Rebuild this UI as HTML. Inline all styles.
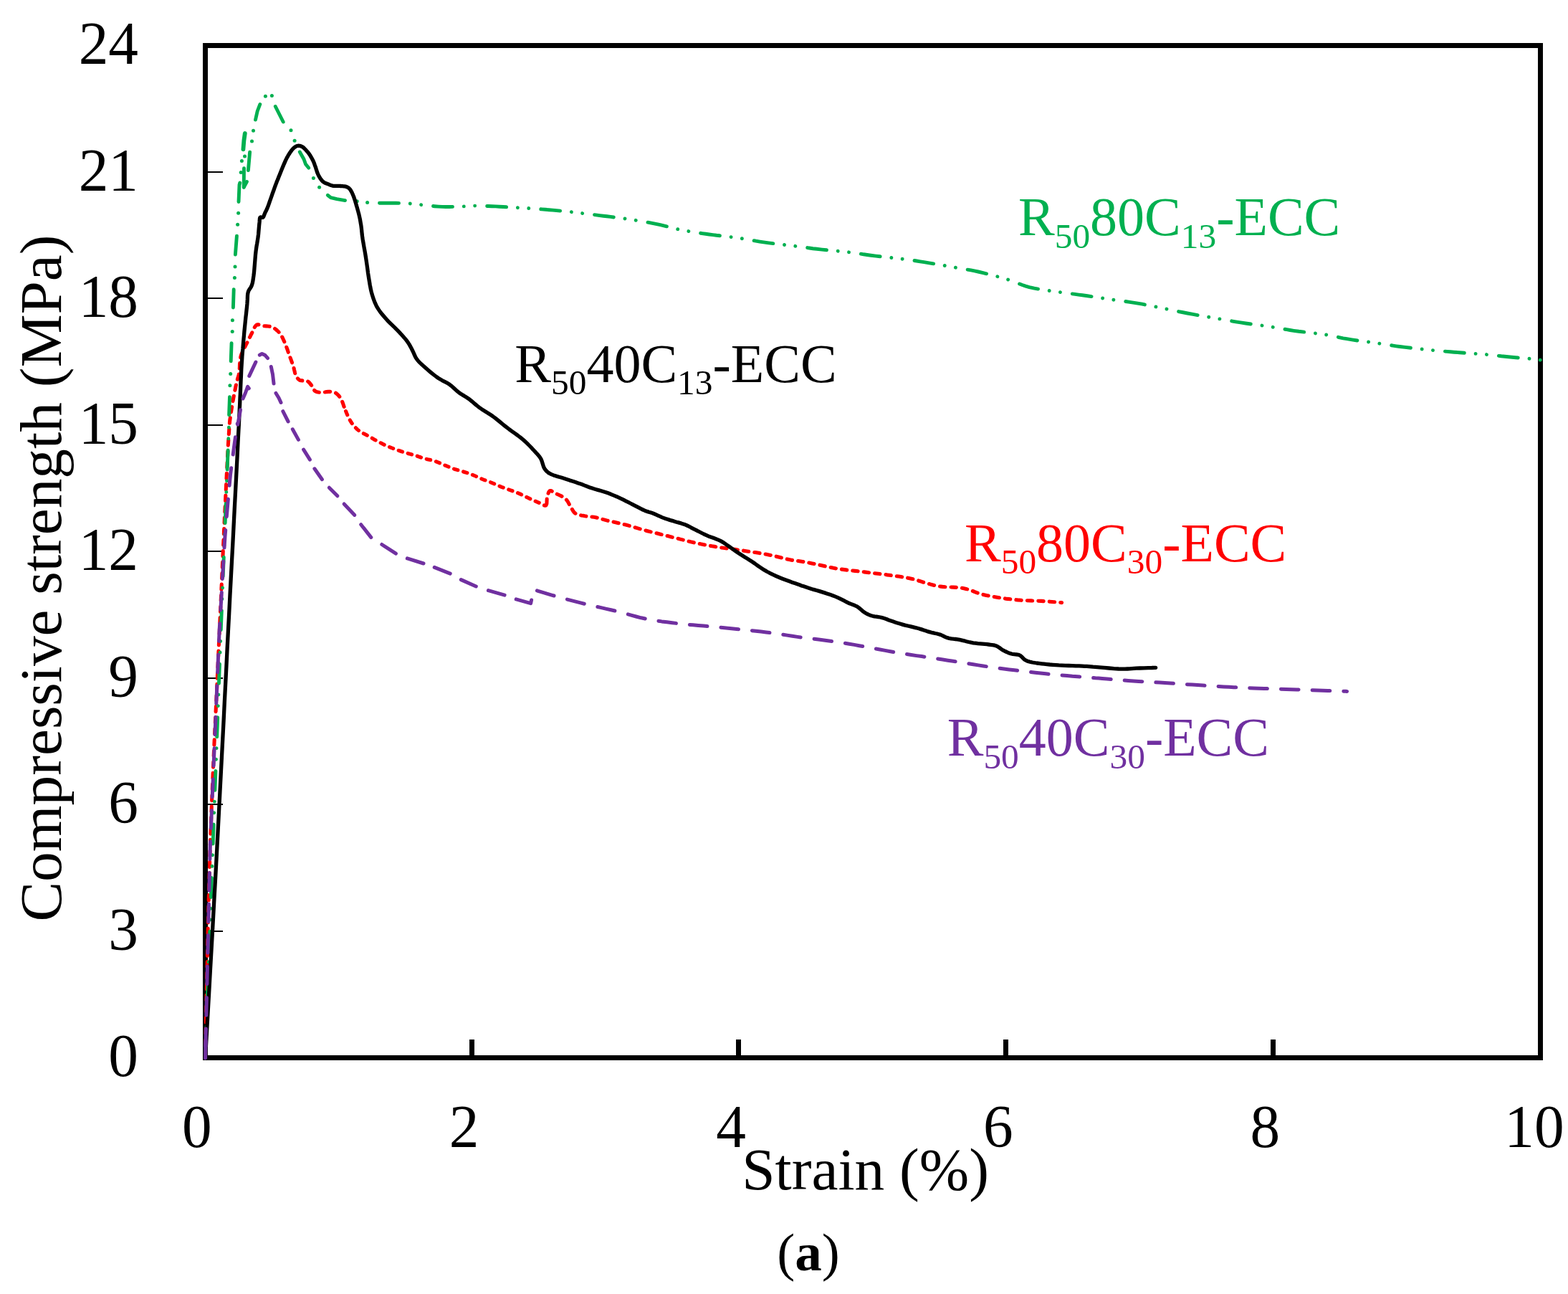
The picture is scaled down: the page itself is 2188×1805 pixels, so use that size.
<!DOCTYPE html>
<html lang="en"><head><meta charset="utf-8"><title>Compressive strength vs strain</title>
<style>html,body{margin:0;padding:0;background:#fff;}svg{display:block;}text{font-family:"Liberation Serif",serif;}.c{fill:none;stroke-linejoin:round;}</style></head><body>
<svg width="2188" height="1805" viewBox="0 0 2188 1805">
<rect x="0" y="0" width="2188" height="1805" fill="#fff"/>
<rect x="286.5" y="63.5" width="1863.0" height="1412.0" fill="none" stroke="#000" stroke-width="7"/>
<line x1="289.5" y1="1299.0" x2="311.0" y2="1299.0" stroke="#000" stroke-width="2"/>
<line x1="289.5" y1="1122.0" x2="311.0" y2="1122.0" stroke="#000" stroke-width="2"/>
<line x1="289.5" y1="946.0" x2="311.0" y2="946.0" stroke="#000" stroke-width="2"/>
<line x1="289.5" y1="769.0" x2="311.0" y2="769.0" stroke="#000" stroke-width="2"/>
<line x1="289.5" y1="593.0" x2="311.0" y2="593.0" stroke="#000" stroke-width="2"/>
<line x1="289.5" y1="416.0" x2="311.0" y2="416.0" stroke="#000" stroke-width="2"/>
<line x1="289.5" y1="240.0" x2="311.0" y2="240.0" stroke="#000" stroke-width="2"/>
<line x1="658.5" y1="1472.5" x2="658.5" y2="1450.0" stroke="#000" stroke-width="7"/>
<line x1="1030.5" y1="1472.5" x2="1030.5" y2="1450.0" stroke="#000" stroke-width="7"/>
<line x1="1403.5" y1="1472.5" x2="1403.5" y2="1450.0" stroke="#000" stroke-width="7"/>
<line x1="1776.5" y1="1472.5" x2="1776.5" y2="1450.0" stroke="#000" stroke-width="7"/>
<text transform="translate(193.0,1501.3) scale(1,1.020)" font-size="83.33" text-anchor="end">0</text>
<text transform="translate(193.0,1324.8) scale(1,1.020)" font-size="83.33" text-anchor="end">3</text>
<text transform="translate(193.0,1148.3) scale(1,1.020)" font-size="83.33" text-anchor="end">6</text>
<text transform="translate(193.0,971.8) scale(1,1.020)" font-size="83.33" text-anchor="end">9</text>
<text transform="translate(193.0,795.3) scale(1,1.020)" font-size="83.33" text-anchor="end">12</text>
<text transform="translate(193.0,618.8) scale(1,1.020)" font-size="83.33" text-anchor="end">15</text>
<text transform="translate(193.0,442.3) scale(1,1.020)" font-size="83.33" text-anchor="end">18</text>
<text transform="translate(193.0,265.8) scale(1,1.020)" font-size="83.33" text-anchor="end">21</text>
<text transform="translate(193.0,89.3) scale(1,1.020)" font-size="83.33" text-anchor="end">24</text>
<text transform="translate(274.9,1599.7) scale(1,1.020)" font-size="83.33" text-anchor="middle">0</text>
<text transform="translate(647.5,1599.7) scale(1,1.020)" font-size="83.33" text-anchor="middle">2</text>
<text transform="translate(1020.1,1599.7) scale(1,1.020)" font-size="83.33" text-anchor="middle">4</text>
<text transform="translate(1392.7,1599.7) scale(1,1.020)" font-size="83.33" text-anchor="middle">6</text>
<text transform="translate(1765.3,1599.7) scale(1,1.020)" font-size="83.33" text-anchor="middle">8</text>
<text transform="translate(2140.9,1599.7) scale(1,1.020)" font-size="83.33" text-anchor="middle">10</text>
<text x="1035.2" y="1659.3" font-size="83.33">Strain (%)</text>
<text transform="translate(85,806.5) rotate(-90)" font-size="83.33" text-anchor="middle">Compressive strength (MPa)</text>
<text x="1127.9" y="1772.3" font-size="75" text-anchor="middle">(<tspan font-weight="bold">a</tspan>)</text>
<path class="c" d="M286.5 1475.5 L286.8 1460.5 L287.5 1420.9 L288.7 1364.8 L290.1 1300.5 L291.7 1236.2 L293.3 1180.0 L295.1 1130.0 L297.1 1079.9 L299.3 1029.7 L301.7 979.6 L304.0 929.6 L306.3 880.0 L308.7 827.6 L311.2 770.4 L313.8 713.4 L316.3 661.6 L318.4 619.9 L320.1 593.5 L320.4 590.2 L320.6 587.7 L320.9 585.7 L321.1 583.9 L321.4 582.0 L321.7 579.7 L322.2 576.3 L322.8 572.6 L323.4 568.8 L324.0 564.9 L324.7 561.0 L325.4 557.2 L326.1 553.4 L326.8 549.6 L327.6 545.7 L328.4 541.9 L329.1 538.3 L329.9 534.8 L330.5 532.2 L331.2 529.7 L331.9 527.3 L332.6 524.9 L333.2 522.5 L333.7 519.8 L334.1 516.3 L334.4 512.6 L334.5 508.7 L334.7 504.8 L335.2 501.0 L335.9 497.3 L337.0 493.9 L338.5 490.4 L340.1 487.1 L341.8 483.9 L343.4 480.7 L344.9 477.8 L345.9 475.6 L346.9 473.6 L347.9 471.6 L348.9 469.7 L349.8 467.8 L350.9 465.8 L352.0 463.5 L353.1 461.0 L354.3 458.4 L355.5 456.1 L356.9 454.3 L358.4 453.1 L359.7 452.8 L361.1 452.9 L362.6 453.2 L364.2 453.7 L365.8 454.2 L367.4 454.6 L369.3 454.8 L371.3 454.9 L373.4 455.0 L375.5 455.2 L377.5 455.5 L379.4 456.1 L381.3 457.0 L383.2 458.2 L385.0 459.5 L386.7 461.0 L388.4 462.6 L389.9 464.3 L391.4 466.2 L392.7 468.4 L394.0 470.6 L395.1 473.0 L396.2 475.4 L397.3 477.8 L398.4 480.4 L399.4 483.1 L400.4 485.9 L401.4 488.7 L402.3 491.5 L403.3 494.3 L404.3 497.1 L405.4 499.9 L406.4 502.6 L407.4 505.4 L408.4 508.1 L409.3 510.8 L410.0 513.2 L410.5 515.6 L411.1 518.0 L411.6 520.3 L412.3 522.4 L413.1 524.3 L413.8 525.6 L414.6 526.7 L415.3 527.8 L416.2 528.8 L417.2 529.6 L418.3 530.3 L419.8 530.8 L421.6 530.9 L423.5 530.9 L425.4 530.9 L427.2 531.0 L428.8 531.5 L430.0 532.3 L431.1 533.2 L432.1 534.3 L433.0 535.4 L433.9 536.6 L434.8 537.8 L435.6 539.0 L436.3 540.4 L436.9 541.7 L437.6 543.1 L438.4 544.2 L439.3 545.2 L440.3 545.9 L441.5 546.4 L442.7 546.8 L444.0 547.1 L445.4 547.3 L446.8 547.5 L448.8 547.5 L451.0 547.3 L453.4 547.0 L455.7 546.6 L458.0 546.4 L460.0 546.3 L461.4 546.4 L462.7 546.4 L464.0 546.6 L465.2 546.8 L466.4 547.2 L467.6 547.7 L469.0 548.5 L470.3 549.6 L471.7 550.9 L472.9 552.2 L474.1 553.7 L475.2 555.3 L476.4 557.4 L477.4 559.7 L478.3 562.2 L479.2 564.7 L480.0 567.2 L480.9 569.5 L481.6 571.3" stroke="#ff0000" stroke-width="5.10" stroke-linecap="round" stroke-dasharray="7.4 8.1" stroke-dashoffset="-2.50"/>
<path class="c" d="M481.6 571.3 L482.3 573.0 L483.0 574.6 L483.6 576.2 L484.3 577.9 L485.1 579.5 L485.9 581.3 L486.8 583.0 L487.7 584.8 L488.6 586.6 L489.7 588.3 L490.8 590.0 L492.1 591.8 L493.6 593.7 L495.1 595.5 L496.8 597.2 L498.5 598.9 L500.3 600.4 L502.3 601.9 L504.5 603.2 L506.7 604.4 L509.0 605.6 L511.3 606.8 L513.6 608.0 L515.8 609.3 L518.1 610.6 L520.3 611.9 L522.5 613.2 L524.7 614.4 L526.9 615.6 L528.8 616.6 L530.7 617.6 L532.6 618.6 L534.4 619.5 L536.3 620.4 L538.3 621.3 L540.4 622.2 L542.6 623.2 L544.9 624.1 L547.1 625.0 L549.4 625.9 L551.6 626.7 L553.8 627.5 L556.0 628.3 L558.2 629.0 L560.4 629.8 L562.6 630.5 L564.9 631.2 L567.4 632.0 L570.0 632.7 L572.6 633.4 L575.2 634.2 L577.7 634.9 L580.1 635.6 L582.1 636.2 L584.0 636.9 L585.8 637.5 L587.6 638.2 L589.5 638.8 L591.5 639.4 L593.9 640.0 L596.5 640.7 L599.1 641.2 L601.7 641.8 L604.3 642.5 L606.7 643.2 L608.7 643.9 L610.6 644.7 L612.4 645.4 L614.2 646.2 L616.1 647.1 L618.1 647.9 L620.5 648.9 L623.0 649.9 L625.6 651.0 L628.2 652.1 L630.8 653.1 L633.3 654.0 L635.6 654.8 L637.8 655.4 L640.0 656.1 L642.3 656.7 L644.5 657.3 L646.7 658.0 L648.9 658.7 L651.2 659.4 L653.4 660.2 L655.6 661.0 L657.8 661.8 L660.0 662.6 L662.2 663.5 L664.4 664.5 L666.7 665.5 L668.9 666.5 L671.1 667.5 L673.3 668.5 L675.5 669.4 L677.7 670.2 L679.9 671.1 L682.2 671.9 L684.4 672.7 L686.6 673.6 L688.8 674.5 L691.0 675.5 L693.2 676.5 L695.5 677.4 L697.7 678.4 L699.9 679.3 L702.1 680.1 L704.3 680.9 L706.5 681.7 L708.8 682.5 L711.0 683.3 L713.2 684.1 L715.4 684.9 L717.6 685.8 L719.9 686.7 L722.1 687.5 L724.3 688.4 L726.5 689.4 L728.7 690.4 L730.9 691.5 L733.2 692.6 L735.4 693.7 L737.6 694.8 L739.8 695.9 L742.0 696.9 L744.3 697.9 L746.6 699.0 L748.9 699.9 L751.0 700.8 L753.1 701.7 L754.7 702.5 L756.3 703.4 L757.9 704.2 L759.4 704.9 L760.7 705.2 L761.7 705.0" stroke="#ff0000" stroke-width="5.10" stroke-linecap="round" stroke-dasharray="5.6 8.0" stroke-dashoffset="-2.50"/>
<path class="c" d="M761.7 705.0 L762.5 704.0 L762.9 702.3 L763.0 700.2 L763.1 697.9 L763.2 695.6 L763.6 693.6 L764.1 691.9 L764.6 690.0 L765.1 688.2 L765.7 686.5 L766.5 685.3 L767.4 684.6 L768.3 684.5 L769.3 684.8 L770.4 685.4 L771.6 686.2 L772.9 687.0 L774.2 687.8 L776.5 688.9 L779.1 690.0 L781.9 691.3 L784.6 692.7 L787.2 694.3 L789.4 696.0 L791.0 697.8 L792.4 699.9 L793.6 702.1 L794.7 704.3 L795.8 706.5 L797.0 708.4 L797.9 709.8 L798.8 711.2 L799.6 712.6 L800.5 713.8 L801.5 715.0 L802.7 716.0 L804.5 717.0 L806.6 717.8 L808.8 718.4 L811.2 718.9 L813.6 719.3 L816.0 719.8 L818.5 720.2 L821.0 720.5 L823.6 720.7 L826.2 721.0 L828.8 721.3 L831.3 721.7 L833.8 722.3 L836.2 722.9 L838.6 723.6 L841.1 724.4 L843.7 725.1 L846.5 725.9 L850.5 726.9 L854.8 727.8 L859.2 728.8 L863.8 729.9 L868.5 731.0 L873.1 732.1 L878.1 733.4 L883.2 734.9 L888.3 736.4 L893.4 737.9 L898.5 739.3 L903.5 740.7 L908.1 741.9 L912.7 743.0 L917.2 744.1 L921.6 745.2 L925.9 746.3 L930.1 747.3 L933.5 748.1 L936.7 749.0 L939.8 749.8 L942.9 750.5 L946.0 751.3 L949.1 752.1 L952.3 752.9 L955.4 753.7 L958.6 754.5 L961.8 755.3 L964.9 756.1 L968.1 756.8 L971.3 757.5 L974.4 758.1 L977.6 758.8 L980.8 759.4 L983.9 760.0 L987.1 760.6 L990.3 761.2 L993.5 761.8 L996.6 762.3 L999.8 762.9 L1003.0 763.4 L1006.2 763.9 L1009.4 764.3 L1012.5 764.7 L1015.7 765.1 L1018.9 765.5 L1022.0 765.9 L1025.2 766.3 L1028.4 766.8 L1031.5 767.2 L1034.7 767.7 L1037.9 768.2 L1041.0 768.7 L1044.2 769.2 L1047.4 769.7 L1050.5 770.1 L1053.7 770.6 L1056.9 771.1 L1060.0 771.6 L1063.2 772.1 L1066.4 772.7 L1069.5 773.3 L1072.7 773.9 L1075.9 774.5 L1079.0 775.2 L1082.2 775.9 L1085.4 776.7 L1088.5 777.5 L1091.7 778.3 L1094.9 779.1 L1098.0 779.9 L1101.2 780.6 L1104.4 781.2 L1107.5 781.7 L1110.7 782.1 L1113.8 782.5 L1117.0 783.0 L1120.2 783.5 L1123.4 784.1 L1126.6 784.7 L1129.9 785.3 L1133.1 785.9 L1136.5 786.6 L1140.0 787.3 L1144.3 788.2 L1148.8 789.2 L1153.4 790.3 L1158.2 791.3 L1163.0 792.3 L1168.0 793.2 L1174.0 794.1 L1180.2 794.9 L1186.6 795.7 L1193.1 796.4 L1199.6 797.1 L1206.0 797.9 L1212.4 798.7 L1218.9 799.5 L1225.4 800.3 L1231.8 801.0 L1238.1 801.9 L1244.1 802.7 L1249.2 803.4 L1254.1 804.1 L1259.0 804.9 L1263.7 805.6 L1268.3 806.5 L1272.6 807.4 L1276.0 808.3 L1279.2 809.2 L1282.4 810.2 L1285.4 811.2 L1288.5 812.2 L1291.6 813.1 L1294.7 814.0 L1297.8 814.9 L1300.8 815.7 L1304.0 816.5 L1307.2 817.3 L1310.6 817.9 L1315.1 818.4 L1320.1 818.8 L1325.2 819.0 L1330.2 819.1 L1334.9 819.4 L1339.1 819.8 L1341.6 820.2 L1343.9 820.6 L1346.0 821.0 L1348.1 821.5 L1350.2 822.0 L1352.4 822.6 L1354.8 823.4 L1357.2 824.3 L1359.6 825.4 L1362.1 826.4 L1364.8 827.4 L1367.6 828.3 L1371.8 829.4 L1376.4 830.5 L1381.3 831.4 L1386.3 832.4 L1391.3 833.2 L1396.2 834.0 L1400.9 834.7 L1405.7 835.4 L1410.4 835.9 L1415.2 836.4 L1419.9 836.9 L1424.7 837.3 L1429.4 837.6 L1434.2 837.8 L1438.9 837.9 L1443.7 838.0 L1448.5 838.2 L1453.2 838.4 L1458.6 838.8 L1464.8 839.2 L1471.0 839.7 L1476.3 840.2 L1480.2 840.5 L1481.6 840.6" stroke="#ff0000" stroke-width="5.10" stroke-linecap="round" stroke-dasharray="7.4 8.1" stroke-dashoffset="13.62"/>
<path class="c" d="M319.4 596.2 L308.2 880.0 L297.0 1180.0 L286.5 1475.5" stroke="#00b050" stroke-width="4.9" stroke-linecap="round" stroke-dasharray="0.01 15.6 0.01 16.2 27 15.8"/>
<path class="c" d="M319.6 578.8 L320.5 553.6" stroke="#00b050" stroke-width="4.9" stroke-linecap="round"/>
<circle cx="320.9" cy="537.8" r="2.50" fill="#00b050"/>
<circle cx="321.7" cy="521.6" r="2.50" fill="#00b050"/>
<path class="c" d="M322.2 503.9 L323.1 478.7" stroke="#00b050" stroke-width="4.9" stroke-linecap="round"/>
<circle cx="324.2" cy="462.5" r="2.50" fill="#00b050"/>
<circle cx="324.4" cy="446.7" r="2.50" fill="#00b050"/>
<path class="c" d="M325.4 429.0 L326.2 403.8" stroke="#00b050" stroke-width="4.9" stroke-linecap="round"/>
<circle cx="327.4" cy="387.6" r="2.50" fill="#00b050"/>
<circle cx="328.0" cy="371.9" r="2.50" fill="#00b050"/>
<path class="c" d="M328.4 355.0 L330.4 329.3" stroke="#00b050" stroke-width="4.9" stroke-linecap="round"/>
<circle cx="331.6" cy="313.2" r="2.50" fill="#00b050"/>
<circle cx="332.6" cy="297.3" r="2.50" fill="#00b050"/>
<path class="c" d="M333.0 281.5 L334.0 258.0 L334.8 255.0" stroke="#00b050" stroke-width="4.9" stroke-linecap="round"/>
<circle cx="336.2" cy="240.6" r="2.50" fill="#00b050"/>
<circle cx="337.4" cy="224.5" r="2.50" fill="#00b050"/>
<circle cx="341.5" cy="218.1" r="2.50" fill="#00b050"/>
<path class="c" d="M339.4 208.3 L340.4 196.0 L341.8 186.0" stroke="#00b050" stroke-width="5.8" stroke-linecap="round"/>
<path class="c" d="M340.5 234.8 L340.2 261.5" stroke="#00b050" stroke-width="4.9" stroke-linecap="round"/>
<path class="c" d="M340.6 260.5 L344.4 253.5" stroke="#00b050" stroke-width="4.9" stroke-linecap="round"/>
<path class="c" d="M346.4 237.5 L348.6 212.3" stroke="#00b050" stroke-width="4.9" stroke-linecap="round"/>
<circle cx="351.5" cy="197.1" r="2.50" fill="#00b050"/>
<circle cx="353.5" cy="182.2" r="2.50" fill="#00b050"/>
<path class="c" d="M356.5 167.0 L359.2 155.0 L362.8 145.5" stroke="#00b050" stroke-width="4.9" stroke-linecap="round"/>
<circle cx="370.4" cy="134.3" r="2.50" fill="#00b050"/>
<circle cx="379.4" cy="133.4" r="2.50" fill="#00b050"/>
<path class="c" d="M384.3 148.5 L395.2 170.0" stroke="#00b050" stroke-width="4.9" stroke-linecap="round"/>
<circle cx="406.0" cy="181.8" r="2.50" fill="#00b050"/>
<circle cx="411.1" cy="196.2" r="2.50" fill="#00b050"/>
<path class="c" d="M418.3 212.0 L424.0 222.0 L426.5 229.0 L430.8 234.2" stroke="#00b050" stroke-width="4.9" stroke-linecap="round"/>
<circle cx="437.4" cy="248.4" r="2.50" fill="#00b050"/>
<circle cx="445.6" cy="261.3" r="2.50" fill="#00b050"/>
<path class="c" d="M457.3 272.3 L461.5 275.6 L470.0 277.7 L481.5 279.6" stroke="#00b050" stroke-width="4.9" stroke-linecap="round"/>
<circle cx="498.2" cy="280.8" r="2.50" fill="#00b050"/>
<circle cx="512.6" cy="282.6" r="2.50" fill="#00b050"/>
<path class="c" d="M529.5 283.2 L531.0 283.2 L535.0 283.2 L540.5 283.2 L546.6 283.3 L552.5 283.3 L557.3 283.4 L560.0 283.5 L562.5 283.5 L564.8 283.6 L567.1 283.6 L569.4 283.7 L571.8 283.9 L574.3 284.1 L576.7 284.4 L579.1 284.7 L581.5 285.0 L584.2 285.3 L587.0 285.6 L591.4 286.1 L596.3 286.6 L601.4 287.2 L606.6 287.7 L611.9 288.1 L617.0 288.4 L622.0 288.5 L627.1 288.5 L632.2 288.4 L637.2 288.2 L641.9 288.1 L646.3 287.9 L649.2 287.8 L651.8 287.6 L654.3 287.4 L656.8 287.3 L659.4 287.2 L662.3 287.1 L666.7 287.1 L671.4 287.2 L676.4 287.3 L681.5 287.5 L686.6 287.7 L691.6 287.9 L696.8 288.2 L702.2 288.5 L707.6 288.8 L712.8 289.1 L717.7 289.4 L722.2 289.7 L724.9 289.8 L727.3 290.0 L729.5 290.1 L731.8 290.2 L734.1 290.3 L736.8 290.5 L741.1 290.8 L745.8 291.1 L750.8 291.5 L755.9 291.9 L761.1 292.3 L766.1 292.7 L771.3 293.1 L776.6 293.6 L782.0 294.1 L787.3 294.6 L792.2 295.1 L796.7 295.6 L799.5 295.9 L802.0 296.2 L804.3 296.5 L806.6 296.8 L809.1 297.1 L811.9 297.5 L816.3 298.0 L821.2 298.6 L826.3 299.3 L831.6 299.9 L836.9 300.6 L842.0 301.2 L847.0 301.8 L852.1 302.4 L857.2 303.1 L862.1 303.7 L866.8 304.3 L871.2 304.9 L874.1 305.3 L876.7 305.7 L879.2 306.0 L881.7 306.4 L884.3 306.8 L887.2 307.3 L891.6 308.0 L896.3 308.8 L901.3 309.7 L906.5 310.6 L911.5 311.6 L916.5 312.6 L921.4 313.7 L926.4 314.9 L931.3 316.1 L936.2 317.4 L940.8 318.5 L945.0 319.5 L947.8 320.1 L950.3 320.6 L952.7 321.1 L955.1 321.5 L957.6 322.0 L960.4 322.5 L964.7 323.2 L969.5 324.0 L974.5 324.8 L979.6 325.6 L984.7 326.3 L989.7 327.0 L994.7 327.6 L999.8 328.3 L1004.9 328.8 L1009.8 329.4 L1014.6 330.0 L1019.0 330.5 L1022.0 330.9 L1024.7 331.2 L1027.3 331.6 L1029.9 332.0 L1032.6 332.3 L1035.6 332.8 L1040.0 333.5 L1044.7 334.4 L1049.7 335.2 L1054.8 336.2 L1060.2 337.1 L1065.6 337.9 L1072.6 338.9 L1080.0 339.8 L1087.7 340.7 L1095.4 341.6 L1102.8 342.4 L1109.8 343.3 L1115.0 344.0 L1120.0 344.7 L1124.7 345.3 L1129.5 346.0 L1134.4 346.7 L1139.7 347.3 L1146.9 348.1 L1154.5 348.8 L1162.5 349.6 L1170.5 350.3 L1178.1 351.1 L1185.3 351.9 L1190.6 352.6 L1195.6 353.3 L1200.3 354.0 L1205.1 354.8 L1210.0 355.5 L1215.3 356.2 L1222.3 357.1 L1229.7 357.9 L1237.4 358.7 L1245.1 359.6 L1252.5 360.4 L1259.5 361.3 L1264.8 362.0 L1269.7 362.7 L1274.4 363.3 L1279.2 364.0 L1284.1 364.8 L1289.4 365.6 L1296.6 366.8 L1304.2 368.1 L1312.2 369.4 L1320.2 370.9 L1327.8 372.2 L1335.0 373.5 L1340.3 374.4 L1345.3 375.3 L1350.1 376.1 L1354.9 376.9 L1359.8 377.9 L1365.0 379.0 L1371.8 380.6 L1379.1 382.4 L1386.5 384.3 L1393.9 386.3 L1401.1 388.4 L1407.8 390.4 L1412.8 392.1 L1417.5 393.9 L1422.0 395.7 L1426.5 397.5 L1431.2 399.1 L1436.3 400.6 L1443.2 402.2 L1450.6 403.5 L1458.3 404.7 L1466.0 405.8 L1473.5 406.8 L1480.5 407.8 L1485.7 408.6 L1490.7 409.2 L1495.4 409.8 L1500.2 410.4 L1505.1 411.1 L1510.4 411.8 L1517.4 412.8 L1524.8 413.9 L1532.5 415.0 L1540.2 416.2 L1547.6 417.3 L1554.6 418.3 L1559.9 419.1 L1565.0 419.8 L1570.0 420.4 L1574.8 421.1 L1579.6 421.8 L1584.5 422.6 L1589.2 423.4 L1593.8 424.2 L1598.3 425.1 L1602.9 426.0 L1607.7 426.9 L1612.8 427.9 L1619.6 429.3 L1626.8 430.8 L1634.2 432.4 L1641.8 434.0 L1649.5 435.5 L1657.0 437.0 L1664.7 438.4 L1672.5 439.8 L1680.4 441.2 L1688.2 442.5 L1695.6 443.8 L1702.6 445.0 L1707.7 445.9 L1712.3 446.7 L1716.8 447.5 L1721.3 448.3 L1726.0 449.1 L1731.1 449.9 L1738.2 451.0 L1745.9 452.1 L1753.9 453.1 L1762.0 454.2 L1769.7 455.3 L1776.8 456.4 L1781.9 457.2 L1786.6 458.1 L1791.0 458.9 L1795.5 459.7 L1800.2 460.5 L1805.3 461.3 L1812.4 462.3 L1820.1 463.2 L1828.1 464.1 L1836.1 465.0 L1843.8 466.0 L1850.9 467.0 L1856.0 467.9 L1860.7 468.8 L1865.2 469.8 L1869.6 470.8 L1874.3 471.8 L1879.4 472.7 L1886.5 473.8 L1894.2 475.0 L1902.2 476.1 L1910.2 477.1 L1917.9 478.2 L1925.0 479.2 L1930.1 480.0 L1934.7 480.7 L1939.2 481.4 L1943.7 482.1 L1948.4 482.8 L1953.5 483.5 L1960.8 484.4 L1968.8 485.3 L1977.0 486.3 L1985.3 487.1 L1993.3 488.0 L2000.6 488.7 L2005.7 489.2 L2010.4 489.6 L2014.9 490.0 L2019.4 490.4 L2024.0 490.8 L2029.1 491.2 L2036.2 491.7 L2043.9 492.3 L2051.8 492.8 L2059.8 493.4 L2067.5 494.0 L2074.7 494.6 L2080.1 495.1 L2085.2 495.7 L2090.1 496.2 L2094.9 496.8 L2099.8 497.3 L2104.7 497.8 L2109.8 498.3 L2115.0 498.7 L2120.3 499.1 L2125.3 499.5 L2130.2 499.9 L2134.6 500.3 L2137.9 500.7 L2141.4 501.1 L2144.7 501.5 L2147.6 501.9 L2149.6 502.2 L2150.3 502.3" stroke="#00b050" stroke-width="4.90" stroke-linecap="round" stroke-dasharray="27 15.8 0.01 15.4 0.01 17" stroke-dashoffset="0.00"/>
<path class="c" d="M286.5 1475.5 L286.9 1467.8 L288.1 1447.5 L289.7 1418.9 L291.6 1386.1 L293.4 1353.4 L295.0 1325.0 L296.4 1300.7 L297.7 1276.6 L299.0 1252.5 L300.4 1228.4 L301.7 1204.3 L303.0 1180.0 L304.3 1155.1 L305.6 1130.2 L306.9 1105.2 L308.2 1080.1 L309.5 1055.0 L310.8 1030.0 L312.1 1005.0 L313.3 979.9 L314.6 954.8 L315.9 929.8 L317.1 904.9 L318.4 880.0 L319.7 855.6 L320.9 831.3 L322.2 807.0 L323.5 782.9 L324.8 758.8 L326.0 735.0 L327.2 711.2 L328.5 686.4 L329.8 661.7 L331.0 638.3 L332.0 617.4 L332.9 600.0 L333.3 592.8 L333.6 586.5 L333.8 580.9 L334.1 575.6 L334.3 570.4 L334.6 565.0 L334.8 559.9 L335.0 554.8 L335.3 549.9 L335.5 544.9 L335.7 540.0 L335.9 535.0 L336.1 530.0 L336.4 524.8 L336.6 519.7 L336.8 514.7 L337.1 509.8 L337.4 505.0 L337.7 501.1 L337.9 497.3 L338.2 493.6 L338.5 490.0 L338.9 486.2 L339.2 482.3 L339.6 477.5 L340.0 472.6 L340.5 467.6 L340.9 462.5 L341.4 457.4 L341.9 452.4 L342.4 447.5 L342.9 442.6 L343.5 437.6 L344.0 432.8 L344.5 428.2 L344.9 423.9 L345.1 420.8 L345.3 417.7 L345.4 414.8 L345.5 412.0 L345.8 409.4 L346.4 407.0 L347.0 405.4 L347.9 404.0 L348.7 402.6 L349.7 401.3 L350.5 399.9 L351.2 398.4 L351.8 396.4 L352.4 394.4 L352.8 392.3 L353.2 390.0 L353.5 387.6 L353.9 384.9 L354.5 379.9 L355.0 374.1 L355.5 367.9 L356.0 361.5 L356.5 355.4 L357.1 350.0 L357.6 346.3 L358.1 342.9 L358.7 339.7 L359.2 336.5 L359.7 333.3 L360.2 330.0 L360.6 326.5 L360.9 322.8 L361.2 319.2 L361.5 315.7 L361.8 312.4 L362.1 309.7 L362.2 308.3 L362.3 306.9 L362.4 305.6 L362.5 304.5 L362.8 303.6 L363.2 303.0 L363.7 302.9 L364.2 303.0 L364.8 303.2 L365.5 303.4 L366.1 303.5 L366.6 303.4 L367.3 302.8 L367.9 301.8 L368.4 300.5 L368.9 299.2 L369.4 297.9 L369.9 296.7 L370.3 295.8 L370.8 295.0 L371.2 294.3 L371.6 293.4 L372.0 292.5 L372.5 291.5 L373.4 289.3 L374.4 286.7 L375.4 283.9 L376.4 280.9 L377.5 277.9 L378.5 275.0 L379.5 272.1 L380.5 269.2 L381.6 266.3 L382.6 263.4 L383.6 260.5 L384.6 257.8 L385.5 255.5 L386.3 253.3 L387.2 251.2 L388.1 249.1 L388.9 246.9 L389.8 244.8 L390.7 242.6 L391.5 240.5 L392.4 238.3 L393.3 236.1 L394.1 234.0 L395.0 231.9 L395.8 229.9 L396.7 228.0 L397.5 226.1 L398.3 224.2 L399.2 222.4 L400.1 220.6 L400.9 219.1 L401.8 217.6 L402.6 216.1 L403.5 214.7 L404.4 213.3 L405.3 212.0 L406.1 210.9 L407.0 209.7 L407.8 208.7 L408.7 207.6 L409.6 206.7 L410.5 205.9 L411.3 205.3 L412.2 204.7 L413.0 204.2 L413.9 203.8 L414.8 203.5 L415.7 203.3 L416.6 203.2 L417.4 203.3 L418.3 203.4 L419.2 203.6 L420.1 203.9 L420.9 204.2 L421.8 204.7 L422.7 205.3 L423.6 206.1 L424.4 206.8 L425.3 207.7 L426.1 208.5 L427.0 209.4 L427.9 210.4 L428.8 211.4 L429.6 212.4 L430.5 213.5 L431.3 214.6 L432.2 215.9 L433.1 217.3 L434.0 218.8 L434.8 220.2 L435.6 221.7 L436.4 223.2 L437.1 224.6 L437.7 226.0 L438.3 227.5 L438.8 228.9 L439.3 230.4 L439.9 231.9 L440.5 233.6 L441.0 235.3 L441.6 237.1 L442.1 238.9 L442.7 240.6 L443.4 242.2 L444.0 243.6 L444.7 245.0 L445.4 246.4 L446.2 247.7 L446.9 248.9 L447.7 250.0 L448.4 250.8 L449.0 251.6 L449.7 252.4 L450.4 253.1 L451.2 253.7 L452.0 254.3 L452.9 254.8 L453.9 255.3 L454.9 255.7 L455.9 256.1 L457.0 256.5 L458.0 256.9 L459.0 257.3 L459.9 257.7 L460.9 258.1 L461.9 258.5 L463.0 258.8 L464.1 259.1 L465.8 259.3 L467.6 259.4 L469.6 259.4 L471.6 259.4 L473.5 259.4 L475.3 259.5 L476.7 259.6 L478.1 259.7 L479.5 259.8 L480.8 259.9 L482.0 260.1 L483.1 260.4 L483.9 260.7 L484.7 261.1 L485.4 261.5 L486.1 261.9 L486.8 262.4 L487.4 263.0 L488.1 263.7 L488.7 264.5 L489.3 265.3 L489.8 266.3 L490.4 267.2 L490.9 268.2 L491.5 269.5 L492.1 270.8 L492.7 272.3 L493.3 273.7 L493.9 275.3 L494.4 276.8 L495.0 278.6 L495.6 280.4 L496.1 282.2 L496.7 284.1 L497.2 286.1 L497.8 288.0 L498.4 290.1 L499.0 292.2 L499.6 294.4 L500.2 296.6 L500.8 298.8 L501.3 301.0 L501.8 303.3 L502.3 305.5 L502.7 307.8 L503.1 310.1 L503.5 312.5 L503.9 314.8 L504.2 317.2 L504.5 319.6 L504.7 322.1 L505.0 324.6 L505.2 327.2 L505.6 330.0 L506.2 334.2 L507.0 338.8 L507.8 343.6 L508.7 348.5 L509.6 353.5 L510.4 358.5 L511.2 363.9 L512.0 369.4 L512.8 375.1 L513.5 380.6 L514.3 385.9 L515.1 390.8 L515.7 394.3 L516.2 397.5 L516.8 400.6 L517.4 403.7 L518.1 406.7 L518.9 409.8 L519.9 413.0 L521.0 416.3 L522.1 419.5 L523.4 422.7 L524.9 425.9 L526.5 428.9 L528.4 431.9 L530.4 434.9 L532.7 437.7 L535.0 440.5 L537.4 443.3 L539.8 446.0 L542.2 448.6 L544.8 451.2 L547.4 453.7 L550.0 456.2 L552.5 458.7 L555.0 461.2 L557.4 463.7 L559.8 466.3 L562.1 468.8 L564.4 471.4 L566.5 473.9 L568.4 476.4 L569.7 478.3 L570.9 480.2 L572.0 482.1 L573.0 483.9 L574.0 485.8 L575.0 487.8 L576.1 490.0 L577.1 492.2 L578.1 494.5 L579.2 496.8 L580.3 499.0 L581.7 501.1 L583.3 503.1 L585.0 505.1 L586.9 506.9 L588.9 508.7 L590.9 510.6 L593.1 512.5 L596.0 515.0 L599.1 517.7 L602.3 520.4 L605.6 523.0 L608.9 525.5 L612.1 527.7 L614.7 529.3 L617.3 530.8 L619.9 532.1 L622.4 533.4 L624.9 534.8 L627.3 536.3 L629.6 538.1 L631.8 540.0 L634.0 542.0 L636.2 544.0 L638.4 545.9 L640.6 547.7 L642.8 549.2 L645.0 550.6 L647.2 551.9 L649.4 553.3 L651.7 554.7 L653.9 556.2 L656.4 558.1 L658.8 560.1 L661.3 562.3 L663.8 564.4 L666.4 566.5 L669.1 568.6 L672.1 570.7 L675.3 572.7 L678.5 574.7 L681.7 576.7 L684.9 578.8 L688.1 581.0 L691.3 583.4 L694.4 585.9 L697.5 588.4 L700.6 591.0 L703.8 593.6 L707.1 596.2 L710.8 599.0 L714.7 601.8 L718.7 604.7 L722.6 607.5 L726.4 610.4 L729.9 613.3 L732.7 615.8 L735.5 618.4 L738.1 621.0 L740.6 623.5 L742.9 626.1 L745.2 628.5 L747.0 630.4 L748.7 632.3 L750.4 634.1 L752.0 636.0 L753.4 637.9 L754.7 639.9 L755.7 642.1 L756.5 644.4 L757.2 646.8 L757.9 649.1 L758.6 651.3 L759.6 653.2 L760.5 654.6 L761.5 655.9 L762.5 657.0 L763.7 658.1 L765.0 659.2 L766.5 660.2 L769.3 661.6 L772.5 662.9 L776.1 664.1 L780.0 665.2 L783.8 666.3 L787.5 667.5 L791.3 668.8 L795.2 670.1 L799.1 671.3 L803.0 672.6 L806.8 673.9 L810.3 675.1 L813.0 676.1 L815.6 677.1 L818.0 678.0 L820.5 679.0 L823.0 679.9 L825.6 680.8 L828.6 681.8 L831.8 682.7 L835.0 683.6 L838.2 684.5 L841.4 685.5 L844.6 686.5 L847.8 687.6 L851.0 688.8 L854.1 690.1 L857.3 691.4 L860.5 692.7 L863.6 694.1 L866.8 695.6 L870.0 697.2 L873.2 698.8 L876.4 700.4 L879.5 702.0 L882.6 703.6 L885.5 705.1 L888.5 706.7 L891.4 708.2 L894.3 709.7 L897.0 711.0 L899.7 712.2 L901.7 713.0 L903.6 713.6 L905.4 714.2 L907.3 714.7 L909.1 715.3 L911.1 716.0 L913.5 717.0 L916.0 718.1 L918.6 719.3 L921.1 720.4 L923.7 721.6 L926.3 722.6 L928.8 723.5 L931.3 724.3 L933.9 725.1 L936.4 725.9 L939.0 726.6 L941.5 727.4 L944.1 728.2 L946.7 728.9 L949.3 729.6 L951.8 730.4 L954.3 731.2 L956.7 732.1 L958.7 733.0 L960.6 733.9 L962.4 734.8 L964.2 735.8 L966.1 736.8 L968.1 737.8 L970.7 739.1 L973.5 740.6 L976.3 742.0 L979.2 743.5 L982.2 745.0 L985.2 746.4 L988.6 747.9 L992.3 749.2 L996.0 750.6 L999.6 752.0 L1003.1 753.4 L1006.2 754.9 L1008.3 756.1 L1010.3 757.3 L1012.1 758.6 L1013.8 759.8 L1015.7 761.1 L1017.6 762.5 L1020.0 764.2 L1022.5 765.9 L1025.1 767.7 L1027.6 769.5 L1030.2 771.3 L1032.8 773.0 L1035.3 774.6 L1037.9 776.2 L1040.4 777.8 L1042.9 779.3 L1045.5 780.9 L1048.0 782.5 L1050.6 784.2 L1053.2 786.0 L1055.7 787.9 L1058.3 789.7 L1060.8 791.4 L1063.2 793.0 L1065.1 794.2 L1067.0 795.4 L1068.8 796.4 L1070.6 797.5 L1072.6 798.5 L1074.6 799.6 L1077.2 800.9 L1079.9 802.2 L1082.8 803.5 L1085.7 804.7 L1088.7 806.0 L1091.7 807.2 L1095.1 808.5 L1098.6 809.8 L1102.1 811.1 L1105.7 812.4 L1109.2 813.6 L1112.6 814.8 L1115.6 815.8 L1118.5 816.9 L1121.3 817.8 L1124.2 818.8 L1127.1 819.8 L1130.0 820.7 L1133.1 821.7 L1136.3 822.6 L1139.5 823.5 L1142.6 824.4 L1145.8 825.4 L1149.0 826.4 L1152.2 827.4 L1155.4 828.5 L1158.7 829.6 L1161.9 830.7 L1165.0 831.9 L1168.0 833.1 L1170.7 834.3 L1173.3 835.6 L1175.8 836.9 L1178.3 838.2 L1180.7 839.5 L1183.2 840.7 L1185.5 841.7 L1187.8 842.6 L1190.1 843.5 L1192.3 844.3 L1194.5 845.3 L1196.5 846.4 L1198.2 847.6 L1199.8 848.9 L1201.4 850.2 L1202.9 851.6 L1204.4 852.9 L1206.0 854.0 L1207.5 854.9 L1209.0 855.8 L1210.6 856.6 L1212.2 857.4 L1213.8 858.1 L1215.6 858.7 L1217.9 859.3 L1220.4 859.8 L1223.0 860.2 L1225.7 860.6 L1228.3 861.0 L1230.8 861.6 L1233.1 862.3 L1235.3 863.0 L1237.5 863.8 L1239.6 864.7 L1241.8 865.5 L1244.1 866.3 L1246.5 867.1 L1249.0 867.9 L1251.4 868.7 L1254.0 869.5 L1256.6 870.3 L1259.3 871.1 L1262.9 872.1 L1266.7 873.0 L1270.7 873.9 L1274.7 874.9 L1278.5 875.8 L1282.1 876.8 L1284.8 877.6 L1287.4 878.4 L1289.9 879.3 L1292.3 880.1 L1294.8 880.9 L1297.3 881.6 L1299.9 882.3 L1302.5 882.9 L1305.1 883.5 L1307.7 884.0 L1310.2 884.7 L1312.5 885.4 L1314.2 886.1 L1315.7 886.8 L1317.2 887.6 L1318.7 888.4 L1320.3 889.1 L1322.0 889.7 L1324.5 890.3 L1327.3 890.8 L1330.2 891.2 L1333.1 891.5 L1336.1 891.9 L1339.1 892.4 L1342.2 893.1 L1345.4 893.8 L1348.5 894.7 L1351.7 895.5 L1354.9 896.2 L1358.1 896.8 L1361.3 897.2 L1364.5 897.6 L1367.8 897.8 L1371.0 898.1 L1374.1 898.4 L1377.1 898.7 L1379.5 899.0 L1381.9 899.3 L1384.1 899.6 L1386.4 899.9 L1388.5 900.4 L1390.5 901.1 L1392.2 901.9 L1393.8 902.9 L1395.3 904.0 L1396.8 905.1 L1398.4 906.2 L1400.0 907.2 L1401.8 908.1 L1403.7 909.0 L1405.6 909.9 L1407.5 910.7 L1409.5 911.4 L1411.4 912.0 L1413.3 912.4 L1415.3 912.6 L1417.3 912.8 L1419.2 913.0 L1421.1 913.3 L1422.8 913.9 L1424.2 914.8 L1425.5 915.9 L1426.7 917.1 L1427.9 918.4 L1429.1 919.6 L1430.4 920.5 L1431.6 921.2 L1432.7 921.7 L1433.9 922.2 L1435.2 922.6 L1436.5 923.0 L1438.0 923.4 L1440.6 924.0 L1443.6 924.5 L1446.8 925.0 L1450.1 925.4 L1453.6 925.8 L1457.0 926.2 L1460.9 926.6 L1464.9 927.0 L1469.0 927.3 L1473.2 927.6 L1477.4 927.9 L1481.7 928.1 L1486.4 928.3 L1491.3 928.5 L1496.2 928.6 L1501.1 928.8 L1505.8 928.9 L1510.2 929.1 L1513.4 929.3 L1516.4 929.4 L1519.2 929.6 L1522.1 929.8 L1525.1 930.1 L1528.5 930.3 L1534.2 930.8 L1540.6 931.4 L1547.5 932.0 L1554.3 932.6 L1560.8 933.0 L1566.5 933.2 L1570.0 933.2 L1573.2 933.0 L1576.2 932.8 L1579.2 932.6 L1582.3 932.4 L1585.6 932.2 L1590.5 932.0 L1596.3 931.8 L1602.2 931.6 L1607.4 931.5 L1611.2 931.3 L1612.6 931.3" stroke="#000" stroke-width="5.30" stroke-linecap="round"/>
<path class="c" d="M331.2 591.0 L327.0 620.0 L321.5 662.0 L317.6 705.0 L314.0 748.0 L311.3 791.0 L308.8 835.0 L306.2 878.0 L293.3 1180.0 L286.5 1475.5" stroke="#7030a0" stroke-width="5.0" stroke-linecap="round" stroke-dasharray="0.01 18.9 24.6 0"/>
<path class="c" d="M287.0 1452.0 L286.6 1476.0" stroke="#7030a0" stroke-width="5.0" stroke-linecap="round"/>
<path class="c" d="M331.8 592.2 L335.5 571.7" stroke="#7030a0" stroke-width="5.0" stroke-linecap="round"/>
<path class="c" d="M339.0 556.0 L342.5 548.0 L345.6 539.4 L347.3 541.8" stroke="#7030a0" stroke-width="5.0" stroke-linecap="round"/>
<path class="c" d="M347.8 524.4 L356.9 505.0" stroke="#7030a0" stroke-width="5.0" stroke-linecap="round"/>
<path class="c" d="M362.3 495.2 L365.6 493.4 L370.0 495.6 L373.6 499.6" stroke="#7030a0" stroke-width="5.0" stroke-linecap="round"/>
<path class="c" d="M378.3 511.5 L380.5 522.0 L382.0 535.0" stroke="#7030a0" stroke-width="5.0" stroke-linecap="round"/>
<path class="c" d="M385.0 548.5 L389.0 555.0 L392.0 561.5" stroke="#7030a0" stroke-width="5.0" stroke-linecap="round"/>
<path class="c" d="M394.8 573.7 L402.1 588.0" stroke="#7030a0" stroke-width="5.0" stroke-linecap="round"/>
<path class="c" d="M408.3 598.8 L416.4 613.4" stroke="#7030a0" stroke-width="5.0" stroke-linecap="round"/>
<path class="c" d="M423.6 627.2 L432.4 641.1" stroke="#7030a0" stroke-width="5.0" stroke-linecap="round"/>
<path class="c" d="M438.9 653.8 L449.4 668.7" stroke="#7030a0" stroke-width="5.0" stroke-linecap="round"/>
<path class="c" d="M459.3 680.2 L470.9 691.8" stroke="#7030a0" stroke-width="5.0" stroke-linecap="round"/>
<path class="c" d="M480.1 703.0 L494.8 718.4" stroke="#7030a0" stroke-width="5.0" stroke-linecap="round"/>
<path class="c" d="M503.7 731.7 L517.8 749.6" stroke="#7030a0" stroke-width="5.0" stroke-linecap="round"/>
<path class="c" d="M532.8 759.5 L552.4 772.1" stroke="#7030a0" stroke-width="5.0" stroke-linecap="round"/>
<path class="c" d="M568.3 778.9 L591.0 786.0" stroke="#7030a0" stroke-width="5.0" stroke-linecap="round"/>
<path class="c" d="M606.2 791.4 L628.2 800.1" stroke="#7030a0" stroke-width="5.0" stroke-linecap="round"/>
<path class="c" d="M643.3 808.6 L664.3 818.0" stroke="#7030a0" stroke-width="5.0" stroke-linecap="round"/>
<path class="c" d="M681.4 823.6 L704.1 830.1" stroke="#7030a0" stroke-width="5.0" stroke-linecap="round"/>
<path class="c" d="M720.2 835.9 L740.6 841.6 L741.6 837.0" stroke="#7030a0" stroke-width="5.0" stroke-linecap="round"/>
<path class="c" d="M749.4 823.9 L750.7 824.3 L754.1 825.4 L759.1 826.9 L764.8 828.6 L770.7 830.3 L776.1 831.9 L782.3 833.6 L788.7 835.4 L795.4 837.1 L802.2 838.9 L809.1 840.7 L816.0 842.4 L823.2 844.1 L830.5 845.8 L837.8 847.4 L845.2 849.1 L852.5 850.8 L859.8 852.5 L866.8 854.3 L873.8 856.2 L880.7 858.1 L887.6 860.0 L894.6 861.8 L901.6 863.3 L908.8 864.6 L916.1 865.8 L923.4 866.9 L930.7 867.8 L938.0 868.7 L945.3 869.6 L952.6 870.4 L959.9 871.2 L967.1 871.8 L974.4 872.5 L981.7 873.1 L989.0 873.8 L996.3 874.5 L1003.6 875.1 L1010.9 875.8 L1018.2 876.5 L1025.5 877.2 L1032.8 877.9 L1040.1 878.7 L1047.4 879.4 L1054.7 880.3 L1061.9 881.1 L1069.2 882.0 L1076.5 882.9 L1083.8 883.9 L1091.1 885.0 L1098.3 886.1 L1105.6 887.3 L1112.9 888.4 L1120.2 889.4 L1127.5 890.4 L1134.9 891.2 L1142.3 892.1 L1149.6 893.0 L1156.9 893.9 L1164.2 894.9 L1171.2 896.0 L1178.2 897.1 L1185.1 898.2 L1192.0 899.4 L1199.0 900.7 L1206.0 901.9 L1213.2 903.2 L1220.5 904.6 L1227.8 906.0 L1235.2 907.4 L1242.5 908.8 L1249.8 910.1 L1257.1 911.3 L1264.4 912.4 L1271.6 913.5 L1278.9 914.6 L1286.2 915.6 L1293.5 916.7 L1300.8 917.8 L1308.1 918.9 L1315.4 920.0 L1322.7 921.2 L1330.0 922.3 L1337.2 923.4 L1344.2 924.5 L1351.2 925.6 L1358.1 926.8 L1365.0 927.9 L1372.0 929.0 L1379.0 930.0 L1386.2 931.0 L1393.5 932.0 L1400.8 933.0 L1408.2 933.9 L1415.5 934.8 L1422.8 935.7 L1430.1 936.6 L1437.4 937.4 L1444.6 938.2 L1451.9 939.0 L1459.2 939.8 L1466.5 940.5 L1473.9 941.2 L1481.4 941.9 L1489.0 942.5 L1496.4 943.2 L1503.5 943.7 L1510.2 944.3 L1515.1 944.7 L1519.7 945.1 L1524.1 945.4 L1528.5 945.8 L1533.1 946.1 L1538.0 946.5 L1544.7 947.0 L1551.8 947.6 L1559.2 948.2 L1566.8 948.8 L1574.3 949.4 L1581.7 949.9 L1589.0 950.4 L1596.3 950.8 L1603.5 951.2 L1610.8 951.6 L1618.1 952.1 L1625.5 952.5 L1633.1 953.0 L1640.7 953.5 L1648.3 954.0 L1655.9 954.6 L1663.5 955.1 L1671.1 955.6 L1678.4 956.1 L1685.8 956.6 L1693.1 957.0 L1700.3 957.5 L1707.6 957.9 L1714.8 958.3 L1721.8 958.7 L1728.8 959.0 L1735.7 959.3 L1742.6 959.6 L1749.6 959.9 L1756.7 960.2 L1764.2 960.5 L1771.8 960.7 L1779.4 961.0 L1787.1 961.2 L1794.7 961.5 L1802.3 961.7 L1809.7 961.9 L1817.1 962.2 L1824.6 962.5 L1831.9 962.7 L1839.1 963.0 L1846.0 963.2 L1852.6 963.4 L1860.0 963.7 L1867.3 964.0 L1873.5 964.2 L1877.9 964.3 L1879.6 964.4" stroke="#7030a0" stroke-width="5.00" stroke-linecap="round" stroke-dasharray="24.7 19.02" stroke-dashoffset="0.00"/>
<text transform="translate(1421.0,328.2) scale(1,1)" font-size="76.0" fill="#00b050">R<tspan font-size="49.40" dy="17.6">50</tspan><tspan font-size="76.0" dy="-17.6">80C</tspan><tspan font-size="49.40" dy="17.6">13</tspan><tspan font-size="76.0" dy="-17.6">-ECC</tspan></text>
<text transform="translate(718.3,532.7) scale(1,1)" font-size="76.0" fill="#000">R<tspan font-size="49.40" dy="17.6">50</tspan><tspan font-size="76.0" dy="-17.6">40C</tspan><tspan font-size="49.40" dy="17.6">13</tspan><tspan font-size="76.0" dy="-17.6">-ECC</tspan></text>
<text transform="translate(1346.0,782.7) scale(1,1)" font-size="76.0" fill="#ff0000">R<tspan font-size="49.40" dy="17.6">50</tspan><tspan font-size="76.0" dy="-17.6">80C</tspan><tspan font-size="49.40" dy="17.6">30</tspan><tspan font-size="76.0" dy="-17.6">-ECC</tspan></text>
<text transform="translate(1321.7,1054.0) scale(1,1)" font-size="76.0" fill="#7030a0">R<tspan font-size="49.40" dy="17.6">50</tspan><tspan font-size="76.0" dy="-17.6">40C</tspan><tspan font-size="49.40" dy="17.6">30</tspan><tspan font-size="76.0" dy="-17.6">-ECC</tspan></text>
</svg></body></html>
